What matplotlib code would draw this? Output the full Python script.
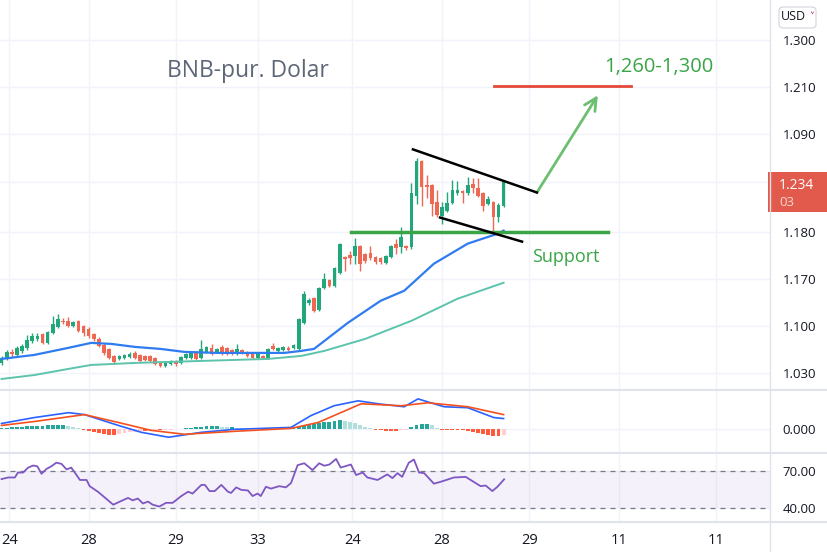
import numpy as np
import matplotlib.pyplot as plt
from matplotlib.patches import Rectangle, FancyBboxPatch

plt.rcParams['font.family'] = ['Open Sans', 'DejaVu Sans']

# ---------- datos (escala del panel principal: niveles del eje de precio) ----------
opens = [38, 43, 49, 46, 50, 53, 60, 62, 67, 58, 68, 74, 80, 80, 75, 80, 75, 72, 67, 62,
         56, 52, 45, 42, 43, 44, 48, 46, 45, 45, 43, 39, 35, 37, 39, 38, 43, 43, 48, 43,
         49, 53, 49, 54, 53, 51, 47, 51, 49, 48, 43, 45, 43, 55, 50, 51, 53, 53, 52, 78,
         98, 103, 91, 113, 121, 115, 128, 144, 146, 145, 155, 147, 148, 144, 143, 138, 144, 157, 154, 155,
         154, 205, 239, 215, 215, 199, 185, 190, 198, 207, 209, 207, 216, 212, 207, 197, 199, 184, 195]
closes = [43, 49, 47, 53, 55, 61, 65, 65, 58, 69, 77, 82, 79, 75, 79, 70, 68, 65, 62, 55,
          48, 43, 39, 45, 46, 47, 43, 40, 41, 40, 37, 35, 38, 40, 37, 44, 47, 48, 42, 52,
          54, 47, 52, 47, 47, 47, 52, 48, 45, 43, 48, 43, 52, 52, 53, 54, 51, 56, 82, 107,
          101, 90, 113, 122, 115, 133, 157, 142, 143, 155, 137, 140, 143, 139, 139, 145, 155, 153, 164, 153,
          207, 239, 213, 213, 197, 186, 194, 198, 210, 210, 207, 215, 212, 205, 195, 202, 184, 196, 218]
highs = [45, 51, 52, 55, 57, 66, 68, 68, 68, 70, 85, 87, 83, 84, 80, 81, 76, 74, 68, 64,
         58, 53, 46, 46, 47, 49, 50, 47, 46, 46, 44, 40, 39, 41, 41, 45, 48, 50, 49, 61,
         55, 57, 53, 56, 54, 52, 57, 52, 50, 49, 49, 46, 53, 58, 54, 55, 55, 57, 83, 110,
         103, 104, 114, 128, 122, 134, 158, 145, 150, 163, 156, 148, 155, 145, 144, 146, 156, 162, 174, 156,
         217, 242, 240, 225, 216, 210, 199, 208, 220, 219, 210, 223, 222, 222, 208, 205, 200, 198, 220]
lows = [36, 41, 44, 45, 48, 51, 58, 60, 57, 57, 67, 73, 77, 74, 74, 69, 65, 63, 60, 54,
        46, 42, 37, 41, 42, 43, 42, 39, 40, 39, 36, 34, 34, 36, 35, 37, 42, 42, 41, 42,
        48, 46, 48, 46, 46, 46, 46, 47, 44, 42, 42, 42, 42, 51, 49, 50, 50, 52, 51, 77,
        96, 89, 90, 112, 114, 114, 127, 130, 137, 137, 130, 138, 141, 137, 137, 137, 143, 147, 148, 151,
        152, 197, 195, 203, 185, 184, 177, 189, 197, 206, 198, 206, 207, 204, 190, 196, 170, 179, 194]

# medias móviles (puntos leídos: índice de vela, nivel)
ma_fast_x = [0, 6.4, 13, 17.5, 21.4, 26, 31, 35.7, 42.3, 48.7, 55.2, 58.5, 61, 67.6, 74, 78.6, 84.4, 91, 96.9, 98]
ma_fast_y = [42, 46, 53, 58, 57, 54, 52, 49, 48, 48, 48, 50, 52, 78, 100, 110, 137, 157, 167, 170]
ma_slow_x = [0, 6.5, 13, 17.5, 26, 32.5, 39, 45.5, 52, 58.5, 63, 71, 80, 89, 98]
ma_slow_y = [22, 26, 32, 36, 38, 39, 40, 41, 42, 45, 50, 62, 80, 102, 118]

# MACD
macd_x = [0, 6.4, 13.1, 16.2, 22.8, 27.3, 32.6, 39, 45.4, 56.5, 60.4, 64.9, 69.6, 73.5, 78.6, 81.3, 83.8, 86.4, 91, 96.1, 98]
macd_y = [6, 12, 17, 15, 4, -3, -8, -3, 0, 2, 14, 24, 29, 26, 23, 31, 27, 23, 22, 12, 11]
signal_x = [0, 6.4, 16.2, 22.8, 29.2, 35.7, 45.4, 56.5, 61.8, 70.2, 78, 83.2, 91, 98]
signal_y = [4, 8, 15, 7, -1, -5, -2, 1, 7, 26, 24, 27, 23, 15]
hist = [1, 1.5, 2, 2, 2.5, 3, 3,
        3, 3.5, 4, 4, 4, 4,
        3, 2, 1,
        -1, -2, -3, -4, -5, -6,
        -6, -5, -4,
        -3, -2.5, -2, -2, -1.5, -1, -1,
        -0.5, -0.3, 0.3, 0.5,
        1, 1.5, 2, 2.5, 3, 3, 3, 2.5, 2, 2, 1.5,
        1, 1, 0.8, 0.8, 0.5, 0.5, 0.5, 0.8, 1, 1,
        1.5, 2, 3, 4, 5, 6, 7, 8, 9, 9.5,
        9, 8, 6, 4, 2.5, 1,
        -0.5, -1, -1.5, -1.5, -1.5, -1, -0.5,
        2, 4, 5, 5, 4,
        1, -0.5, -1, -1, -1, -1,
        -2, -3, -4, -5, -6, -7, -7,
        -6]

# RSI
rsi_x = [0, 1.3, 2.6, 3.2, 4.2, 5.2, 6.2, 7.0, 7.8, 8.8, 9.7, 10.7, 11.7, 12.7, 13.6, 14.3, 15.3, 16.6, 17.2, 18.8,
         20.1, 21.8, 23.1, 24.7, 25.6, 26.6, 27.6, 28.6, 29.5, 30.8, 32.1, 33.4, 35.1, 36.4, 37.3, 39.0, 39.7, 40.6,
         41.6, 42.9, 44.2, 44.8, 45.8, 46.8, 48.1, 49.0, 50.0, 50.6, 51.6, 52.6, 54.2, 55.5, 56.5, 57.8, 59.1, 60.7,
         62.0, 63.0, 64.0, 65.3, 66.2, 68.2, 69.2, 70.5, 71.4, 73.4, 75.3, 76.3, 77.3, 78.2, 79.5, 80.5, 81.5, 82.5,
         84.4, 85.7, 88.3, 90.6, 93.5, 94.5, 95.8, 96.8, 98.1]
rsi_v = [63.7, 65, 65, 69, 69, 73, 74.7, 74, 68, 72, 74, 77, 76, 71.5, 73, 69, 63, 63, 58, 53.5,
         49, 43, 45.5, 48.5, 46.5, 48, 44, 45.5, 43, 41.5, 44.5, 44.5, 50, 53.5, 52, 59, 59, 54,
         54, 59, 53.5, 52.5, 57, 55, 54.5, 50, 52, 50, 57.5, 56, 58, 57, 60.5, 75, 76.5, 71,
         76.5, 74.5, 75.5, 80, 73, 75.5, 67, 69, 65, 63, 67.5, 64.5, 68.5, 65.5, 77, 79.5, 69, 68.5,
         60, 61.5, 65, 65.5, 58, 58.5, 54, 57.5, 63.5]

y_tick_pos = [360, 313, 266, 218, 169, 122, 75, 28]
y_tick_lab = ['1.300', '1.210', '1.090', '', '1.180', '1.170', '1.100', '1.030']
x_tick_pos = [1.5, 17, 34, 50, 68.5, 86, 103, 120.5, 139.5]
x_tick_lab = ['24', '28', '29', '33', '24', '28', '29', '11', '11']

UP = '#22a67b'
DOWN = '#ef6853'
GRID = '#f0f3fa'
SEP = '#e0e3eb'
TXT = '#131722'

W, H = 828, 552


def frac(x0, y0, x1, y1):
    return [x0 / W, 1 - y1 / H, (x1 - x0) / W, (y1 - y0) / H]


fig = plt.figure(figsize=(W / 100, H / 100), dpi=100)
ax = fig.add_axes(frac(0, 0, 770, 389))
axm = fig.add_axes(frac(0, 391, 770, 452), sharex=ax)
axr = fig.add_axes(frac(0, 454, 770, 522), sharex=ax)

for a in (ax, axm, axr):
    for s in a.spines.values():
        s.set_visible(False)
    a.yaxis.tick_right()
    a.tick_params(length=0, labelsize=9.5, colors=TXT, pad=9)
    a.set_xticks(x_tick_pos)
    a.grid(True, color=GRID, lw=1)
    a.set_axisbelow(True)

ax.set_xlim(-0.3, 150)
ax.tick_params(labelbottom=False)
axm.tick_params(labelbottom=False)
axr.set_xticklabels(x_tick_lab)
axr.tick_params(axis='x', labelsize=10.5, pad=8)

# ---------- velas ----------
o = np.array(opens, float)
c = np.array(closes, float)
idx = np.arange(len(o))
col = np.where(c >= o, UP, DOWN)
ax.vlines(idx, lows, highs, colors=col, lw=1, zorder=2)
body = np.maximum(np.abs(c - o), 1.0)
ax.bar(idx, body, bottom=np.minimum(o, c), width=0.72, color=col, zorder=3)

ax.plot(ma_fast_x, ma_fast_y, color='#2f7bf0', lw=1.6, zorder=4)
ax.plot(ma_slow_x, ma_slow_y, color='#5cc3ad', lw=1.4, zorder=4)

ax.set_ylim(12, 400)
ax.set_yticks(y_tick_pos)
ax.set_yticklabels(y_tick_lab)

# ---------- anotaciones ----------
ax.plot([80.3, 104.5], [251, 208], color='black', lw=1.8, zorder=5)
ax.plot([85.6, 101.6], [183, 159], color='black', lw=1.8, zorder=5)
ax.plot([68.2, 118.3], [169, 169], color='#3aa547', lw=2.5, zorder=4)
ax.plot([96.1, 122.8], [314, 314], color='#e5483a', lw=2, zorder=4)
ax.annotate('', xy=(116.4, 305), xytext=(104.5, 208),
            arrowprops=dict(arrowstyle='->', color='#6cbf6e', lw=2, mutation_scale=22,
                            shrinkA=0, shrinkB=0))
ax.text(117.7, 333, '1,260-1,300', color='#3aa547', fontsize=14.5, va='center', ha='left')
ax.text(103.5, 144, 'Support', color='#3aa547', fontsize=13, va='center', ha='left')
ax.text(32.2, 329, 'BNB-pur. Dolar', color='#5d6777', fontsize=16.5, va='center', ha='left')

# ---------- MACD ----------
h = np.array(hist, float)
prev = np.concatenate([[0], h[:-1]])
hcol = np.where(h >= 0, np.where(h >= prev, '#26a69a', '#b2dfdb'),
                np.where(h <= prev, '#ff5a3c', '#ffcdd2'))
axm.bar(idx, h, width=0.75, color=hcol, zorder=2)
axm.plot(macd_x, macd_y, color='#2962ff', lw=1.2, zorder=3)
axm.plot(signal_x, signal_y, color='#f4511e', lw=1.2, zorder=3)
axm.set_ylim(-23, 39)
axm.set_yticks([0])
axm.set_yticklabels(['0.000'])

# ---------- RSI ----------
axr.axhspan(40, 70, color='#7e57c2', alpha=0.08, lw=0, zorder=1)
axr.axhline(70, color='#787b86', lw=0.9, ls=(0, (4, 4)), zorder=2)
axr.axhline(40, color='#787b86', lw=0.9, ls=(0, (4, 4)), zorder=2)
axr.plot(rsi_x, rsi_v, color='#7e57c2', lw=1.3, zorder=3)
axr.set_ylim(29, 84)
axr.set_yticks([70, 40])
axr.set_yticklabels(['70.00', '40.00'])

# ---------- marco estilo TradingView ----------
fig.add_artist(plt.Line2D([770 / W, 770 / W], [0, 1], color=SEP, lw=1))
for yy in (390, 453, 522):
    fig.add_artist(plt.Line2D([0, 1], [1 - yy / H, 1 - yy / H], color=SEP, lw=1.5))

fig.add_artist(Rectangle((768 / W, 1 - 212 / H), 60 / W, 40 / H, color='#e25a4c', lw=0,
                         transform=fig.transFigure))
fig.text(779 / W, 1 - 186 / H, '1.234', color='white', fontsize=10, va='center', ha='left')
fig.text(779 / W, 1 - 203 / H, '03', color='#fbd6d2', fontsize=9.5, va='center', ha='left')

fig.add_artist(FancyBboxPatch((779 / W, 1 - 28 / H), 37 / W, 21 / H,
                              boxstyle='round,pad=0,rounding_size=0.006',
                              fc='white', ec='#d1d4dc', lw=0.8, transform=fig.transFigure))
fig.text(781 / W, 1 - 17 / H, 'USD', color=TXT, fontsize=9, va='center', ha='left')
fig.text(814 / W, 1 - 18 / H, '˅', color='#c2185b', fontsize=7, va='center', ha='right')

fig.savefig('out.png', dpi=100)
